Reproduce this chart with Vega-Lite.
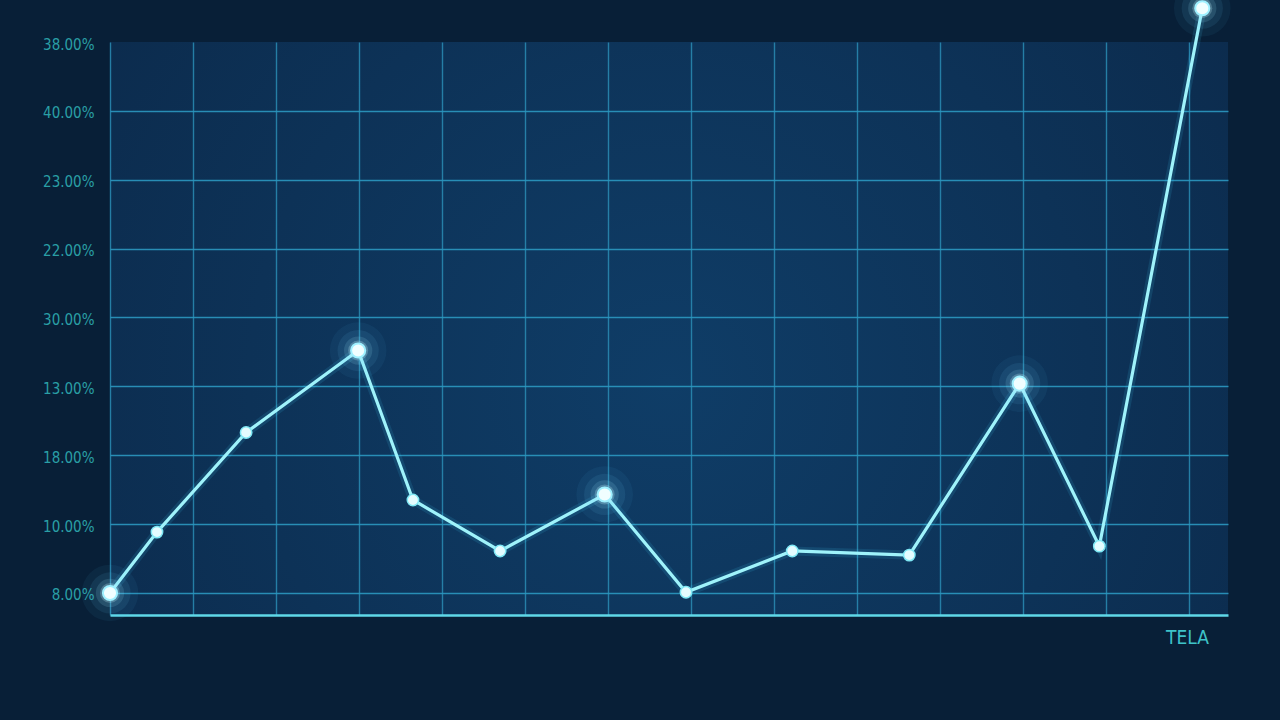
{
  "$schema": "https://vega.github.io/schema/vega-lite/v6.json",
  "width": 1118,
  "height": 573,
  "autosize": {"type": "none"},
  "padding": {"left": 110, "top": 42, "right": 52, "bottom": 105},
  "background": "#081f37",
  "view": {
    "stroke": null,
    "fill": {"gradient": "radial", "x1": 0.5, "y1": 0.55, "r1": 0, "x2": 0.5, "y2": 0.55, "r2": 0.75,
      "stops": [{"offset": 0, "color": "#0f3d67"}, {"offset": 1, "color": "#0b2747"}]}
  },
  "data": {
    "values": [
      {"i": 0, "t": 0, "v": 5},
      {"i": 1, "t": 0.566, "v": 9.42},
      {"i": 2, "t": 1.64, "v": 16.65},
      {"i": 3, "t": 2.99, "v": 22.6},
      {"i": 4, "t": 3.65, "v": 11.75},
      {"i": 5, "t": 4.7, "v": 8.05},
      {"i": 6, "t": 5.96, "v": 12.15},
      {"i": 7, "t": 6.94, "v": 5.05},
      {"i": 8, "t": 8.22, "v": 8.05},
      {"i": 9, "t": 9.63, "v": 7.75},
      {"i": 10, "t": 10.96, "v": 20.2},
      {"i": 11, "t": 11.92, "v": 8.4},
      {"i": 12, "t": 13.16, "v": 47.45}
    ]
  },
  "encoding": {
    "x": {
      "field": "t", "type": "quantitative",
      "scale": {"domain": [0, 13.47], "nice": false, "zero": false},
      "axis": {
        "values": [0,1,2,3,4,5,6,7,8,9,10,11,12,13],
        "labels": false, "ticks": false,
        "domain": true, "domainColor": "#5fd8e8", "domainWidth": 2.5,
        "grid": true, "gridColor": "#2a8cb4", "gridWidth": 1.4, "gridOpacity": 0.85,
        "title": "TELA", "titleColor": "#3ec3c9", "titleFontSize": 19, "titleFontWeight": "normal",
        "titleFont": "DejaVu Sans Condensed, Liberation Sans, sans-serif",
        "titleX": 1077, "titleY": 13, "titleAlign": "center", "titleBaseline": "top"
      }
    },
    "y": {
      "field": "v", "type": "quantitative",
      "scale": {"domain": [3.4, 45], "nice": false, "zero": false},
      "axis": {
        "values": [5,10,15,20,25,30,35,40,45],
        "labelExpr": "['8.00%','10.00%','18.00%','13.00%','30.00%','22.00%','23.00%','40.00%','38.00%'][round((datum.value-5)/5)]",
        "labelColor": "#2a9fa6", "labelFontSize": 15,
        "labelFont": "DejaVu Sans Condensed, Liberation Sans Narrow, sans-serif",
        "labelPadding": 16, "labelOffset": 2, "ticks": false, "domain": false,
        "grid": true, "gridColor": "#2b98c0", "gridWidth": 1.5,
        "gridOpacity": {"condition": {"test": "datum.value >= 44", "value": 0}, "value": 0.9},
        "title": null
      }
    }
  },
  "layer": [
    {"mark": {"type": "line", "color": "#3fd8ff", "strokeWidth": 9, "opacity": 0.12}},
    {"mark": {"type": "line", "color": "#9ff3fb", "strokeWidth": 3.2}},
    {
      "transform": [{"filter": "indexof([0,3,6,10,12], datum.i) >= 0"}],
      "mark": {"type": "circle", "color": "#4fc8ff", "size": 3200, "opacity": 0.06}
    },
    {
      "transform": [{"filter": "indexof([0,3,6,10,12], datum.i) >= 0"}],
      "mark": {"type": "circle", "color": "#6fd8ff", "size": 1700, "opacity": 0.09}
    },
    {
      "transform": [{"filter": "indexof([0,3,6,10,12], datum.i) >= 0"}],
      "mark": {"type": "circle", "color": "#9fe8ff", "size": 800, "opacity": 0.14}
    },
    {
      "transform": [{"filter": "indexof([0,3,6,10,12], datum.i) >= 0"}],
      "mark": {"type": "circle", "color": "#c8f6ff", "size": 400, "opacity": 0.25}
    },
    {"mark": {"type": "circle", "fill": "#e4fcff", "stroke": "#7fe8f5", "strokeWidth": 1.5, "size": 130, "opacity": 1}},
    {
      "transform": [{"filter": "indexof([0,3,6,10,12], datum.i) >= 0"}],
      "mark": {"type": "circle", "fill": "#f0feff", "stroke": "#9ff0ff", "strokeWidth": 2, "size": 200, "opacity": 1}
    }
  ]
}
